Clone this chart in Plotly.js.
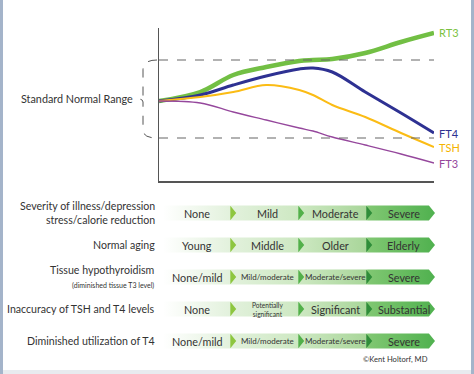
<!DOCTYPE html>
<html>
<head>
<meta charset="utf-8">
<script src="https://cdn.plot.ly/plotly-3.0.1.min.js"></script>
<style>html,body{margin:0;padding:0;background:#fff;}#chart{width:474px;height:374px;}</style>
</head>
<body>
<div id="chart"></div>
<script>
// ---- data ----
const xs   = [0, 1.5, 2.7, 3.9, 5.1, 5.6, 6.3, 7.5, 8.8, 10];
const RT3  = [80, 89, 106, 114, 120, 121, 122, 128, 139, 148];
const FT4  = [80, 86, 96, 105, 112, 113, 109, 89, 68, 48];
const TSH  = [80, 84, 89, 96, 91, 86, 76, 64, 48, 34];
const FT3  = [80, 78, 69, 61, 53, 50, 44, 36, 27, 18];
const seriesNames = ["RT3", "FT4", "TSH", "FT3"];
const normalRange = [43, 121];
const normalRangeLabel = "Standard Normal Range";

const rowLabels = [
  "Severity of illness/depression<br>stress/calorie reduction",
  "Normal aging",
  "Tissue hypothyroidism<br><span style='font-size:7px'>(diminished tissue T3 level)</span>",
  "Inaccuracy of TSH and T4 levels",
  "Diminished utilization of T4"
];
const stageLabels = [
  ["None", "Mild", "Moderate", "Severe"],
  ["Young", "Middle", "Older", "Elderly"],
  ["None/mild", "Mild/moderate", "Moderate/severe", "Severe"],
  ["None", "Potentially<br>significant", "Significant", "Substantial"],
  ["None/mild", "Mild/moderate", "Moderate/severe", "Severe"]
];
const credit = "©Kent Holtorf, MD";

// ---- styles ----
const FONT = "Lato, 'Open Sans', sans-serif";
const TXT = "#333333";
const seriesData = [RT3, FT4, TSH, FT3];
const lineColors = ["#72bf44", "#2e3192", "#fbbc15", "#95479c"];
const labelColors = ["#7cc242", "#2e3192", "#f5b400", "#95479c"];
const lineWidths = [4.5, 3, 2, 1.3];

const traces = [];
seriesData.forEach((s, k) => {
  traces.push({
    type: "scatter", mode: "lines", x: xs, y: s, name: seriesNames[k],
    line: {color: lineColors[k], width: lineWidths[k], shape: "spline", smoothing: 1},
    cliponaxis: false, hoverinfo: "skip"
  });
});

// bottom arrows
const nStages = stageLabels[0].length;
const h = 0.235, tip = 0.09;
const chevColors = ["#8dc63f", "#52b04a", "#2f8d3a"];
const chevX = [[], [], []], chevY = [[], [], []];
rowLabels.forEach((lab, i) => {
  traces.push({
    type: "scatter", mode: "lines", xaxis: "x2", yaxis: "y2",
    x: [0, nStages - tip, nStages, nStages - tip, 0, 0],
    y: [i - h, i - h, i, i + h, i + h, i - h],
    fill: "toself", line: {width: 0, color: "rgba(0,0,0,0)"},
    fillgradient: {type: "horizontal", start: 0, stop: nStages,
      colorscale: [[0, "#ffffff"], [0.25, "#e2f1dc"], [0.5, "#cde8c2"], [0.745, "#a9d69a"],
                   [0.755, "#80c772"], [1, "#50b14f"]]},
    hoverinfo: "skip"
  });
  for (let b = 1; b < nStages; b++) {
    chevX[b - 1].push(b - 0.01, b + tip * 0.85, b - 0.01, b - 0.01, null);
    chevY[b - 1].push(i - h * 0.95, i, i + h * 0.95, i - h * 0.95, null);
  }
});
chevX.forEach((cx, k) => {
  traces.push({
    type: "scatter", mode: "lines", xaxis: "x2", yaxis: "y2",
    x: cx, y: chevY[k], fill: "toself", fillcolor: chevColors[k],
    line: {width: 0, color: "rgba(0,0,0,0)"}, hoverinfo: "skip"
  });
});

const annotations = [];
// series end labels
seriesData.forEach((s, k) => {
  annotations.push({
    x: xs[xs.length - 1], y: s[s.length - 1], xref: "x", yref: "y",
    text: seriesNames[k], showarrow: false, xanchor: "left", xshift: 3,
    font: {family: FONT, size: 11, color: labelColors[k]}
  });
});
annotations.push({
  x: 135 / 474, xref: "paper", y: (normalRange[0] + normalRange[1]) / 2, yref: "y",
  text: normalRangeLabel, showarrow: false, xanchor: "right",
  font: {family: FONT, size: 10.8, color: TXT}
});
rowLabels.forEach((lab, i) => {
  annotations.push({
    x: 157 / 474, xref: "paper", y: i, yref: "y2", text: lab, showarrow: false,
    xanchor: "right", align: "right",
    font: {family: FONT, size: 10.6, color: TXT}
  });
  stageLabels[i].forEach((st, j) => {
    let size = 10.8;
    if (st.indexOf("<br>") >= 0) size = 6.6;
    else if (st.length >= 12) size = 8;
    annotations.push({
      x: j + 0.5 + (j > 0 ? 0.04 : 0), y: i, xref: "x2", yref: "y2", text: st,
      showarrow: false, font: {family: FONT, size: size, color: TXT}
    });
  });
});
annotations.push({
  x: 430 / 474, xref: "paper", y: 15 / 374, yref: "paper", text: credit,
  showarrow: false, xanchor: "right", yanchor: "middle",
  font: {family: FONT, size: 7.6, color: TXT}
});

const yc = normalRange[0], yt = normalRange[1], ym = (yc + yt) / 2;
const px = v => v / 474;
const shapes = [
  {type: "line", xref: "x", yref: "y", x0: 0, x1: 10, y0: yt, y1: yt, line: {color: "#666", width: 1.2, dash: "dash"}},
  {type: "line", xref: "x", yref: "y", x0: 0, x1: 10, y0: yc, y1: yc, line: {color: "#666", width: 1.2, dash: "dash"}},
  {type: "path", xref: "paper", yref: "y",
   path: `M ${px(157)},${yt} Q ${px(143)},${yt} ${px(143)},${yt - 10} L ${px(143)},${ym + 3} Q ${px(143)},${ym} ${px(138)},${ym} Q ${px(143)},${ym} ${px(143)},${ym - 3} L ${px(143)},${yc + 8} Q ${px(143)},${yc} ${px(157)},${yc}`,
   line: {color: "#555", width: 1, dash: "dash"}},
  {type: "rect", xref: "paper", yref: "paper", x0: 0, x1: 3 / 474, y0: 0, y1: 1, fillcolor: "#a4b4ca", line: {width: 0}},
  {type: "rect", xref: "paper", yref: "paper", x0: 471 / 474, x1: 1, y0: 0, y1: 1, fillcolor: "#a4b4ca", line: {width: 0}},
  {type: "rect", xref: "paper", yref: "paper", x0: 3 / 474, x1: 471 / 474, y0: 0, y1: 4 / 374, fillcolor: "#e8ebef", line: {width: 0}}
];

const axOff = {showgrid: false, zeroline: false, showticklabels: false, ticks: "", visible: false};
const layout = {
  width: 474, height: 374, margin: {l: 0, r: 0, t: 0, b: 0},
  paper_bgcolor: "#ffffff", plot_bgcolor: "rgba(0,0,0,0)", showlegend: false,
  font: {family: FONT, color: TXT},
  xaxis: {domain: [159 / 474, 434 / 474], range: [0, 10], showline: true, linecolor: "#555", linewidth: 1.5,
          showgrid: false, zeroline: false, showticklabels: false, ticks: "", fixedrange: true},
  yaxis: {domain: [(374 - 181) / 374, (374 - 28) / 374], range: [0, 153], showline: true, linecolor: "#555", linewidth: 1.5,
          showgrid: false, zeroline: false, showticklabels: false, ticks: "", fixedrange: true},
  xaxis2: Object.assign({domain: [163 / 474, 435 / 474], range: [0, nStages], anchor: "y2"}, axOff),
  yaxis2: Object.assign({domain: [17 / 374, 177 / 374], range: [rowLabels.length - 0.5, -0.5], anchor: "x2"}, axOff),
  annotations: annotations, shapes: shapes
};
Plotly.newPlot("chart", traces, layout, {staticPlot: true, displayModeBar: false});
</script>
</body>
</html>
